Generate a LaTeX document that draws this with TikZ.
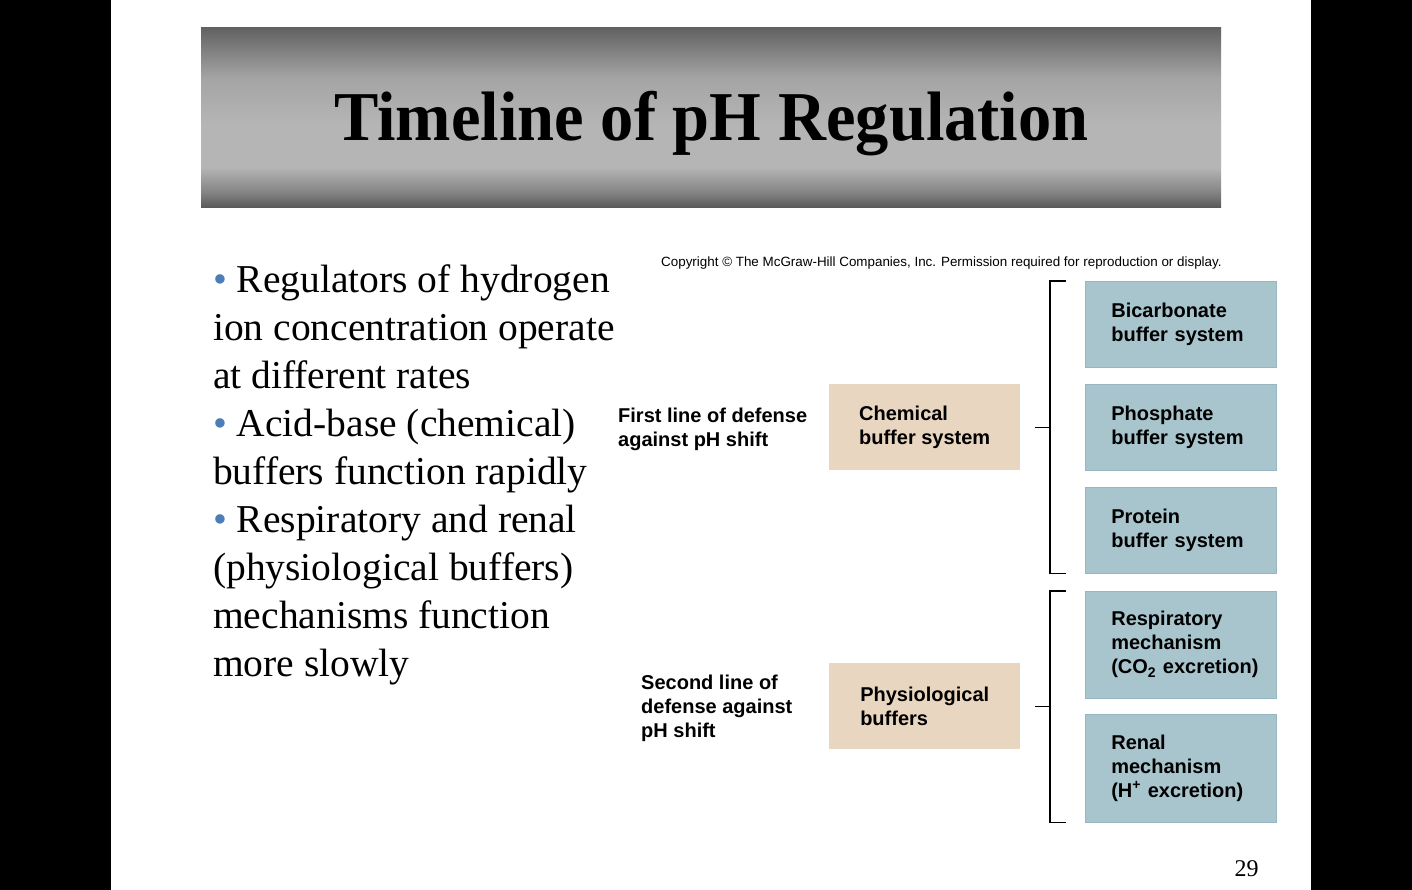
\documentclass[tikz,border=0pt]{standalone}
\usepackage{fontspec}
\usepackage{graphicx}
\setmainfont{Liberation Serif}
\setsansfont{Liberation Sans}
\usetikzlibrary{positioning,calc}
\definecolor{steel}{RGB}{168,197,205}
\definecolor{steeledge}{RGB}{150,183,193}
\definecolor{sand}{RGB}{233,214,192}
\definecolor{dotblue}{RGB}{74,126,187}
\definecolor{shadelow}{gray}{0.35}
\definecolor{shademid}{gray}{0.71}
\definecolor{shadetop}{gray}{0.38}
% only 25bp..75bp of a shading shows on the path
\pgfdeclareverticalshading{bannershade}{100bp}{%
  color(0bp)=(shadelow); color(25bp)=(shadelow); color(29bp)=(shadelow!55!shademid);
  color(36bp)=(shademid); color(48bp)=(shademid);
  color(61bp)=(shademid!80!shadetop); color(75bp)=(shadetop); color(100bp)=(shadetop)}
\newcommand{\ptdot}{{\color{dotblue}\textbullet}\ }
\tikzset{
  bluebox/.style={draw=steeledge,fill=steel,line width=0.6pt,anchor=north west,
    minimum width=191pt,minimum height=#1,text width=139pt,inner xsep=26pt,
    align=left,font=\sffamily\bfseries\fontsize{20}{24}\selectfont},
  bluebox/.default=86pt,
  sandbox/.style={fill=sand,anchor=north west,minimum width=191pt,minimum height=86pt,
    align=left,font=\sffamily\bfseries\fontsize{20}{24}\selectfont},
  sidetag/.style={anchor=west,inner sep=0pt,align=left,
    font=\sffamily\bfseries\fontsize{20}{24}\selectfont},
  bracket/.style={draw=black,line width=1.4pt},
}

\begin{document}
\begin{tikzpicture}[x=1pt,y=-1pt]
  \useasboundingbox (0,0) rectangle (1412,890);
  \fill[white] (0,0) rectangle (1412,890);
  \fill[black] (0,0) rectangle (111,890);
  \fill[black] (1311,0) rectangle (1412,890);
  % title banner
  \node[shading=bannershade,anchor=north west,minimum width=1020pt,minimum height=180pt,inner sep=0pt] (banner) at (201,27) {};
  \node[anchor=base,inner sep=0pt,font=\bfseries\fontsize{70}{70}\selectfont] (title) at (711.5,141) {\scalebox{0.95}[1]{Timeline of pH Regulation}};
  % bullet points
  \node[anchor=north west,inner sep=0pt,align=left,font=\fontsize{39.5}{48}\selectfont] (points) at (213,264)
    {\ptdot Regulators of hydrogen\\ ion concentration operate\\ at different rates\\
     \ptdot Acid-base (chemical)\\ buffers function rapidly\\
     \ptdot Respiratory and renal\\ (physiological buffers)\\ mechanisms function\\ more slowly};
  \node[anchor=base west,inner sep=0pt,font=\sffamily\fontsize{13.4}{16}\selectfont] (credit) at (661,267)
    {Copyright \textcopyright{} The McGraw-Hill Companies, Inc. Permission required for reproduction or display.};
  % defense lines
  \node[sandbox] (chem) at (829,384) {Chemical\\ buffer system};
  \node[sandbox] (phys) at (829,663) {Physiological\\ buffers};
  \node[sidetag,yshift=-2pt] (first) at (618,427) {First line of defense\\ against pH shift};
  \node[sidetag,yshift=-2pt] (second) at (641,706) {Second line of\\ defense against\\ pH shift};
  % buffer systems
  \node[bluebox] (bic) at (1085,281) {Bicarbonate\\ buffer system};
  \node[bluebox] (pho) at (1085,384) {Phosphate\\ buffer system};
  \node[bluebox] (pro) at (1085,487) {Protein\\ buffer system};
  \node[bluebox=107pt] (res) at (1085,591) {Respiratory\\ mechanism\\ \mbox{(CO\textsubscript{2} excretion)}};
  \node[bluebox=108pt] (ren) at (1085,714) {Renal\\ mechanism\\ \mbox{(H\textsuperscript{+} excretion)}};
  % brackets
  \draw[bracket] ([xshift=-19pt]bic.north west) -- ([xshift=-35pt]bic.north west)
    -- ([xshift=-35pt]pro.south west) -- ([xshift=-19pt]pro.south west);
  \draw[bracket] ([xshift=15pt]chem.east) -- ([xshift=30pt]chem.east);
  \draw[bracket] ([xshift=-19pt]res.north west) -- ([xshift=-35pt]res.north west)
    -- ([xshift=-35pt]ren.south west) -- ([xshift=-19pt]ren.south west);
  \draw[bracket] ([xshift=15pt]phys.east) -- ([xshift=30pt]phys.east);
  \node[anchor=base,inner sep=0pt,font=\fontsize{24}{24}\selectfont] (pagenum) at (1246.5,876) {29};
\end{tikzpicture}
\end{document}
